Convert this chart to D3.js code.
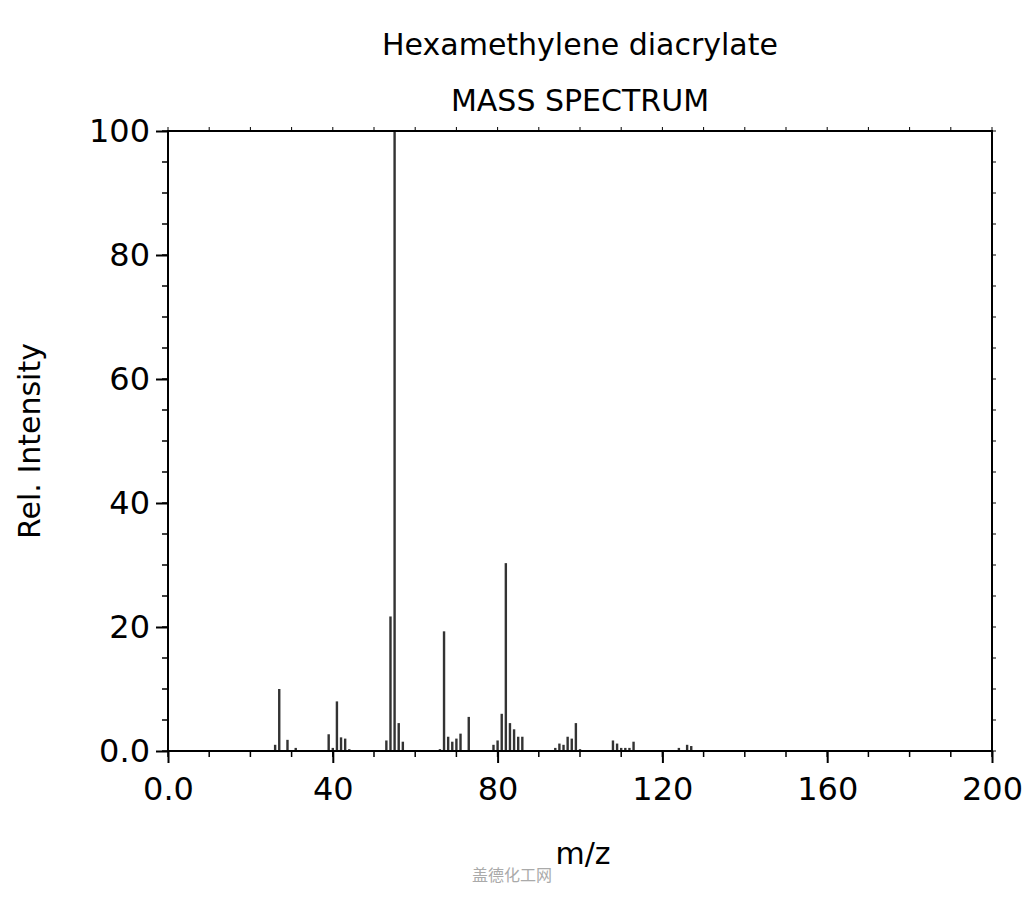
<!DOCTYPE html>
<html>
<head>
<meta charset="utf-8">
<style>
body { margin: 0; background: #fff; }
text { font-family: "DejaVu Sans", sans-serif; }
</style>
</head>
<body>
<svg width="1024" height="900"></svg>
<script src="https://d3js.org/d3.v7.min.js"></script>
<script>
var mz = [26,27,29,31,39,40,41,42,43,44,53,54,55,56,57,66,67,68,69,70,71,73,79,80,81,82,83,84,85,86,
          94,95,96,97,98,99,100,108,109,110,111,112,113,124,126,127];
var intensity = [1,10,1.8,0.5,2.7,0.5,8,2.2,2,0.3,1.7,21.7,100,4.5,1.5,0.3,19.3,2.3,1.5,2,2.8,5.5,1,1.7,6,30.3,4.5,3.5,2.3,2.3,
          0.5,1.2,1,2.3,2,4.5,0.3,1.7,1.2,0.5,0.5,0.5,1.5,0.5,1,0.8];
var xTicks = [0,40,80,120,160,200];
var yTicks = [0,20,40,60,80,100];

var svg = d3.select("svg"),
    margin = {top: 131, right: 32, bottom: 149, left: 168},
    width = 1024 - margin.left - margin.right,
    height = 900 - margin.top - margin.bottom,
    g = svg.append("g").attr("transform", "translate(" + margin.left + "," + margin.top + ")");

var x = d3.scaleLinear().domain([0, 200]).range([0, width]);
var y = d3.scaleLinear().domain([0, 100]).range([height, 0]);

// peaks
g.selectAll("rect.peak")
  .data(mz)
  .enter().append("rect")
    .attr("class", "peak")
    .attr("x", function(d) { return x(d) - 1.2; })
    .attr("width", 2.4)
    .attr("y", function(d, i) { return y(intensity[i]); })
    .attr("height", function(d, i) { return height - y(intensity[i]); })
    .attr("fill", "#333");

// frame
g.append("rect").attr("width", width).attr("height", height)
  .attr("fill", "none").attr("stroke", "#000").attr("stroke-width", 2);

// minor ticks
var minorX = d3.range(0, 201, 10);
g.selectAll("line.mx").data(minorX).enter().append("line")
  .attr("x1", x).attr("x2", x).attr("y1", height).attr("y2", height + 6)
  .attr("stroke", "#000").attr("stroke-width", 1.5);
g.selectAll("line.mxt").data(minorX).enter().append("line")
  .attr("x1", x).attr("x2", x).attr("y1", 0).attr("y2", -4)
  .attr("stroke", "#000").attr("stroke-width", 1);
var minorY = d3.range(0, 101, 5);
g.selectAll("line.my").data(minorY).enter().append("line")
  .attr("x1", -6).attr("x2", 0).attr("y1", y).attr("y2", y)
  .attr("stroke", "#000").attr("stroke-width", 1.5);
g.selectAll("line.myr").data(minorY).enter().append("line")
  .attr("x1", width).attr("x2", width + 4).attr("y1", y).attr("y2", y)
  .attr("stroke", "#000").attr("stroke-width", 1);

var xAxis = g.append("g").attr("transform", "translate(0," + height + ")")
  .call(d3.axisBottom(x).tickValues(xTicks).tickSize(12).tickPadding(14)
    .tickFormat(function(d) { return d === 0 ? "0.0" : d; }));
var yAxis = g.append("g")
  .call(d3.axisLeft(y).tickValues(yTicks).tickSize(12).tickPadding(6)
    .tickFormat(function(d) { return d === 0 ? "0.0" : d; }));
[xAxis, yAxis].forEach(function(a) {
  a.select(".domain").remove();
  a.selectAll("line").attr("stroke-width", 2);
  a.selectAll("text").attr("font-size", 32).attr("fill", "#000");
});

svg.append("text").attr("x", 580).attr("y", 55).attr("text-anchor", "middle")
  .attr("font-size", 30).text("Hexamethylene diacrylate");
svg.append("text").attr("x", 580).attr("y", 111).attr("text-anchor", "middle")
  .attr("font-size", 30).text("MASS SPECTRUM");
svg.append("text").attr("x", 583).attr("y", 864).attr("text-anchor", "middle")
  .attr("font-size", 30).text("m/z");
svg.append("text").attr("transform", "translate(40,441) rotate(-90)").attr("text-anchor", "middle")
  .attr("font-size", 30).text("Rel. Intensity");
svg.append("text").attr("x", 512).attr("y", 881).attr("text-anchor", "middle")
  .attr("font-size", 16).attr("fill", "#aaa")
  .style("font-family", "'Noto Sans CJK SC', sans-serif").text("盖德化工网");
</script>
</body>
</html>
